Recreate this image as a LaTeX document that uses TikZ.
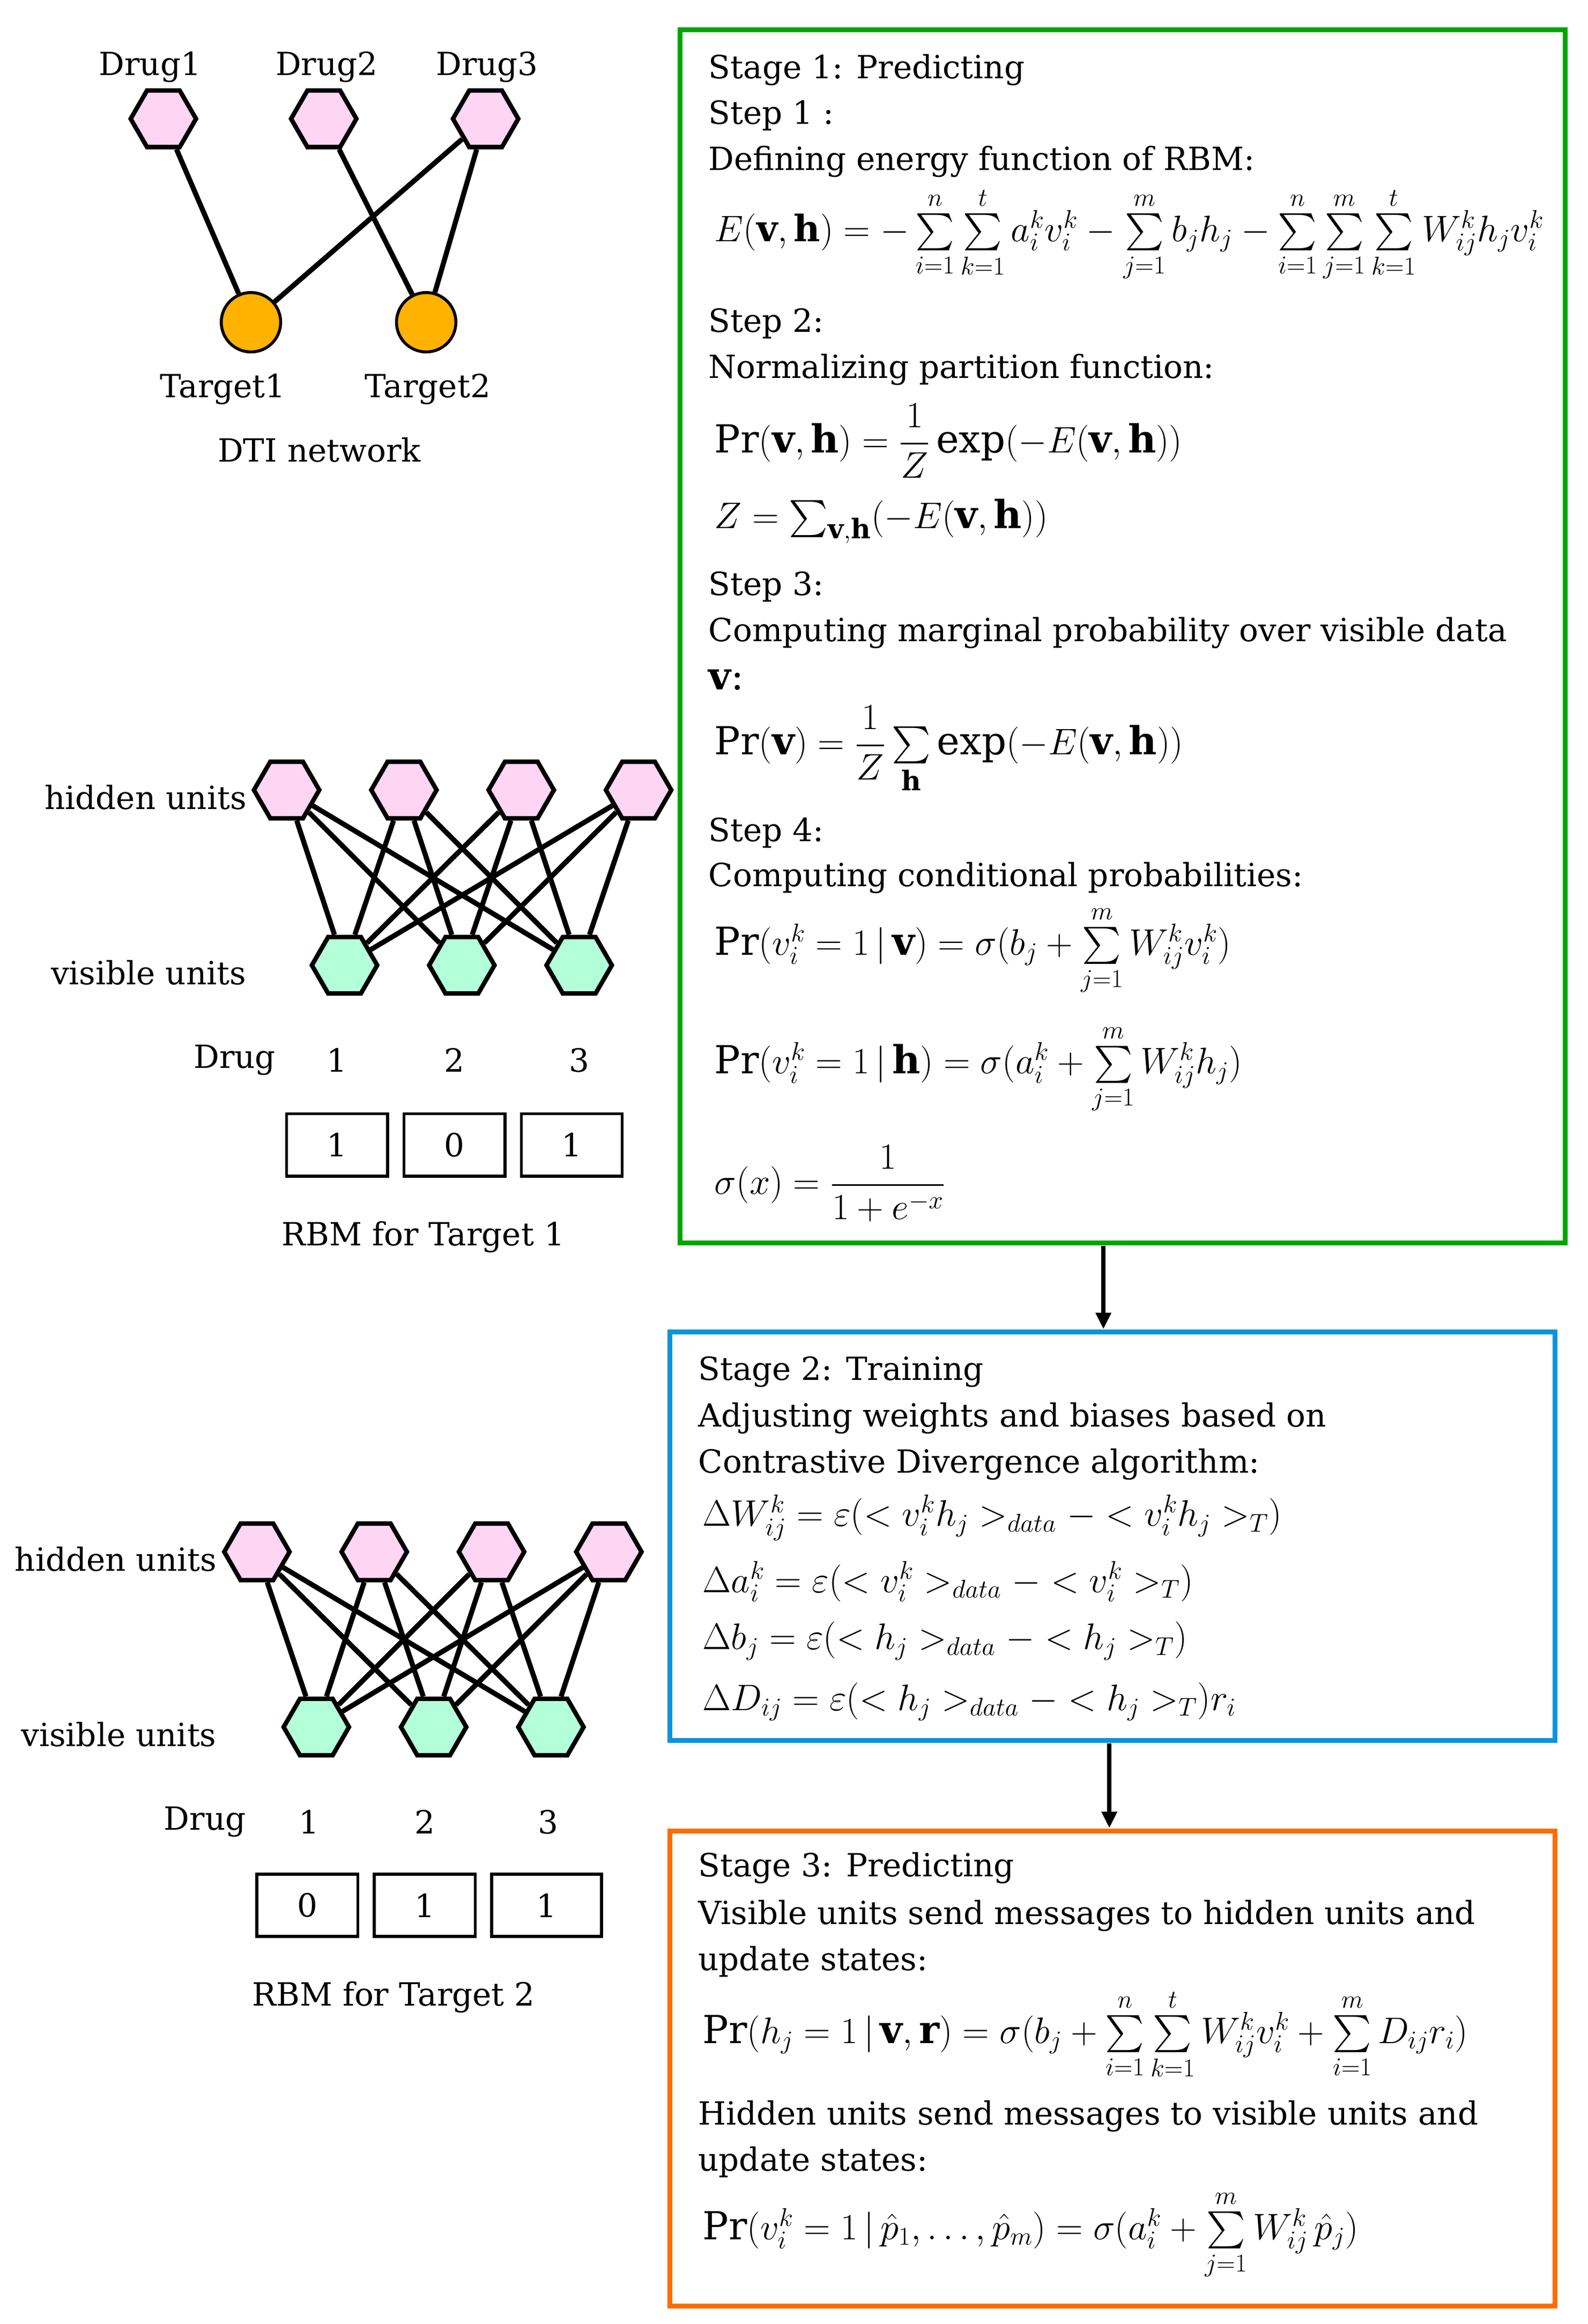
\documentclass[tikz,border=0pt]{standalone}
\usepackage{amsmath}
\usepackage{fontspec}
\setmainfont{DejaVu Serif}
\usetikzlibrary{shapes.geometric,arrows.meta}
\begin{document}
\begin{tikzpicture}[x=1pt,y=-1pt,
  hexp/.style={regular polygon,regular polygon sides=6,shape border rotate=0,draw,line width=3pt,fill=pink!60!magenta!30,minimum size=44pt,inner sep=0pt},
  hexg/.style={hexp,fill=green!50!cyan!30},
  tgt/.style={circle,draw,line width=2pt,fill=orange!60!yellow,minimum size=40pt,inner sep=0pt},
  edge/.style={line width=3.4pt},
  box/.style={draw,line width=2pt,minimum width=68pt,minimum height=42pt},
  t/.style={font=\fontsize{21.5}{25}\selectfont},
  m/.style={font=\fontsize{26}{30}\selectfont},
  tl/.style={t,anchor=west,inner sep=0pt},
  ml/.style={m,anchor=west,inner sep=0pt},
  frame/.style={line width=3.2pt}]
\useasboundingbox (0,0) rectangle (1069,1565);
% DTI network
\node[hexp] (d1) at (110,80) {};
\node[hexp] (d2) at (218,80) {};
\node[hexp] (d3) at (327,80) {};
\node[t] (ld1) at (101,45) {Drug1};
\node[t] (ld2) at (220,45) {Drug2};
\node[t] (ld3) at (328,45) {Drug3};
\node[tgt] (t1) at (169,217) {};
\node[tgt] (t2) at (287,217) {};
\node[t] (lt1) at (150,262) {Target1};
\node[t] (lt2) at (288,262) {Target2};
\node[t] (dti) at (215,303) {DTI network};
\draw[edge] (d1)--(t1) (d2)--(t2) (d3)--(t1) (d3)--(t2);
% RBM1
\foreach \i/\x in {1/193,2/272,3/351,4/430} \node[hexp] (ha\i) at (\x,532) {};
\foreach \i/\x in {1/232,2/311,3/390} \node[hexg] (va\i) at (\x,650) {};
\foreach \i in {1,...,4}\foreach \j in {1,2,3} \draw[edge] (ha\i)--(va\j);
\node[t] (hua) at (98,537) {hidden units};
\node[t] (vua) at (100,655) {visible units};
\node[t] (dga) at (158,714) {Drug};
\foreach \i/\x in {1/227,2/306,3/390} \node[t] (na\i) at (\x,714) {\i};
\node[box,t] (ba1) at (227,771) {1};
\node[box,t] (ba2) at (306,771) {0};
\node[box,t] (ba3) at (385,771) {1};
\node[t] (ra) at (285,833) {RBM for Target 1};
% RBM2
\foreach \i/\x in {1/173,2/252,3/331,4/410} \node[hexp] (hb\i) at (\x,1045) {};
\foreach \i/\x in {1/213,2/292,3/371} \node[hexg] (vb\i) at (\x,1163) {};
\foreach \i in {1,...,4}\foreach \j in {1,2,3} \draw[edge] (hb\i)--(vb\j);
\node[t] (hub) at (78,1050) {hidden units};
\node[t] (vub) at (80,1168) {visible units};
\node[t] (dgb) at (138,1227) {Drug};
\foreach \i/\x in {1/208,2/286,3/369} \node[t] (nb\i) at (\x,1227) {\i};
\node[box,t] (bb1) at (207,1283) {0};
\node[box,t] (bb2) at (286,1283) {1};
\node[box,t,minimum width=74pt] (bb3) at (368,1283) {1};
\node[t] (rb) at (265,1345) {RBM for Target 2};
% frames
\draw[frame,green!65!black] (458,20) rectangle (1054,837);
\draw[frame,cyan!80!blue] (451,897) rectangle (1047,1172);
\draw[frame,orange!85!red] (451,1233) rectangle (1047,1553);
\coordinate (a1s) at (743,839); \coordinate (a1e) at (743,895);
\coordinate (a2s) at (747,1174); \coordinate (a2e) at (747,1231);
\draw[line width=3pt,-{Triangle[length=11pt,width=10pt]}] (a1s)--(a1e);
\draw[line width=3pt,-{Triangle[length=11pt,width=10pt]}] (a2s)--(a2e);
% Stage 1
\node[tl] (s1a) at (477,47) {Stage 1: Predicting};
\node[tl] (s1b) at (477,78) {Step 1 :};
\node[tl] (s1c) at (477,109) {Defining energy function of RBM:};
\node[ml,font=\fontsize{24.5}{28}\selectfont] (f1) at (481,158) {$E(\mathbf{v},\mathbf{h})=-\sum\limits_{i=1}^{n}\sum\limits_{k=1}^{t}a_i^k v_i^k-\sum\limits_{j=1}^{m}b_jh_j-\sum\limits_{i=1}^{n}\sum\limits_{j=1}^{m}\sum\limits_{k=1}^{t}W_{ij}^k h_j v_i^k$};
\node[tl] (s2a) at (477,218) {Step 2:};
\node[tl] (s2b) at (477,249) {Normalizing partition function:};
\node[ml] (f2) at (481,297) {$\Pr(\mathbf{v},\mathbf{h})=\dfrac{1}{Z}\exp(-E(\mathbf{v},\mathbf{h}))$};
\node[ml] (f3) at (481,351) {$Z=\sum\nolimits_{\mathbf{v},\mathbf{h}}(-E(\mathbf{v},\mathbf{h}))$};
\node[tl] (s3a) at (477,395) {Step 3:};
\node[tl] (s3b) at (477,426) {Computing marginal probability over visible data};
\node[ml] (s3c) at (477,458) {$\mathbf{v}$:};
\node[ml] (f4) at (481,505) {$\Pr(\mathbf{v})=\dfrac{1}{Z}\sum\limits_{\mathbf{h}}\exp(-E(\mathbf{v},\mathbf{h}))$};
\node[tl] (s4a) at (477,561) {Step 4:};
\node[tl] (s4b) at (477,591) {Computing conditional probabilities:};
\node[ml] (f5) at (481,640) {$\Pr(v_i^k=1\,|\,\mathbf{v})=\sigma(b_j+\sum\limits_{j=1}^{m}W_{ij}^k v_i^k)$};
\node[ml] (f6) at (481,720) {$\Pr(v_i^k=1\,|\,\mathbf{h})=\sigma(a_i^k+\sum\limits_{j=1}^{m}W_{ij}^k h_j)$};
\node[ml] (f7) at (481,797) {$\sigma(x)=\dfrac{1}{1+e^{-x}}$};
% Stage 2
\node[tl] (t2a) at (470,924) {Stage 2: Training};
\node[tl] (t2b) at (470,955) {Adjusting weights and biases based on};
\node[tl] (t2c) at (470,986) {Contrastive Divergence algorithm:};
\node[ml] (g1) at (473,1022) {$\Delta W_{ij}^k=\varepsilon(<v_i^kh_j>_{data}-<v_i^kh_j>_T)$};
\node[ml] (g2) at (473,1065) {$\Delta a_i^k=\varepsilon(<v_i^k>_{data}-<v_i^k>_T)$};
\node[ml] (g3) at (473,1105) {$\Delta b_j=\varepsilon(<h_j>_{data}-<h_j>_T)$};
\node[ml] (g4) at (473,1146) {$\Delta D_{ij}=\varepsilon(<h_j>_{data}-<h_j>_T)r_i$};
% Stage 3
\node[tl] (u3a) at (470,1258) {Stage 3: Predicting};
\node[tl] (u3b) at (470,1290) {Visible units send messages to hidden units and};
\node[tl] (u3c) at (470,1321) {update states:};
\node[ml] (h1) at (473,1370) {$\Pr(h_j=1\,|\,\mathbf{v},\mathbf{r})=\sigma(b_j+\sum\limits_{i=1}^{n}\sum\limits_{k=1}^{t}W_{ij}^kv_i^k+\sum\limits_{i=1}^{m}D_{ij}r_i)$};
\node[tl] (u3d) at (470,1425) {Hidden units send messages to visible units and};
\node[tl] (u3e) at (470,1456) {update states:};
\node[ml] (h2) at (473,1505) {$\Pr(v_i^k=1\,|\,\hat{p}_1,\ldots,\hat{p}_m)=\sigma(a_i^k+\sum\limits_{j=1}^{m}W_{ij}^k\,\hat{p}_j)$};
\end{tikzpicture}
\end{document}
